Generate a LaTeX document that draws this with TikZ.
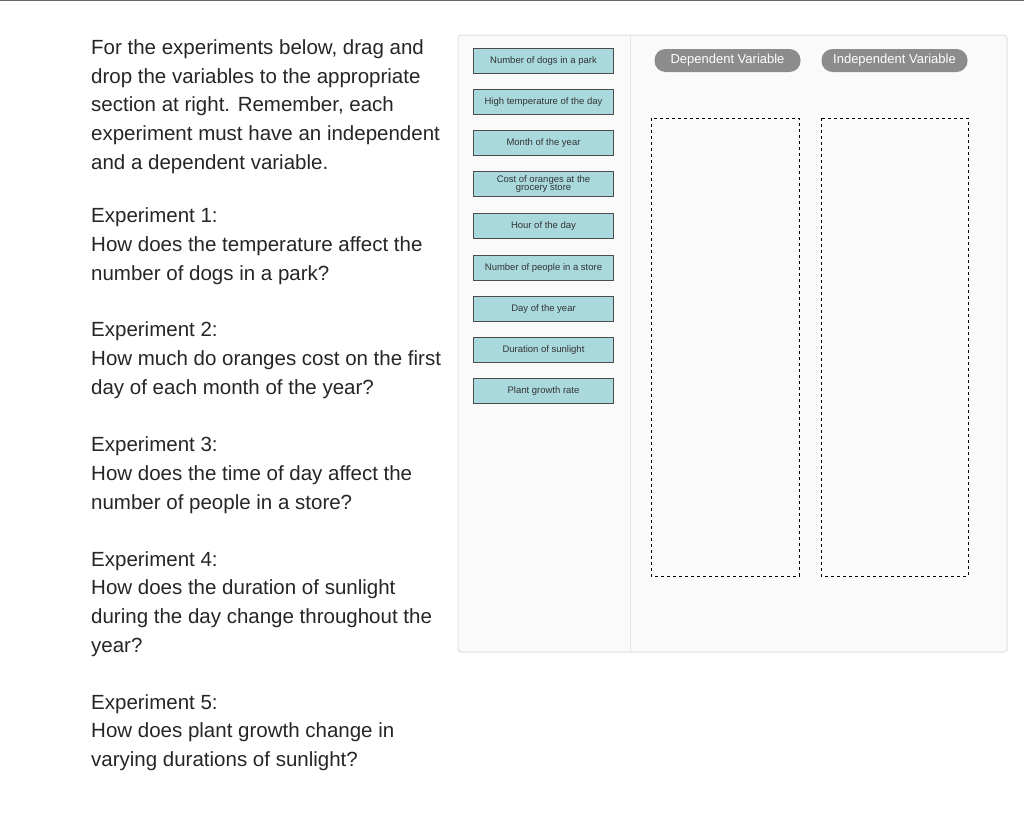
\documentclass[tikz,border=0pt]{standalone}
\usepackage{fontspec}
\setmainfont{Liberation Sans}
\definecolor{cardfill}{HTML}{A9D9DD}
\begin{document}
\begin{tikzpicture}[x=1pt,y=-1pt,
  txt/.style={anchor=west,inner sep=0pt,font=\fontsize{20.5}{22}\selectfont,text=black!85},
  card/.style={draw=black!70,line width=1.2pt,fill=cardfill,minimum width=140pt,minimum height=25pt,inner sep=1pt,font=\fontsize{9.5}{8.5}\selectfont,text=black!80,align=center},
  pill/.style={rounded corners=11pt,fill=black!45,text=white,minimum width=146pt,minimum height=23pt,inner sep=0pt,font=\fontsize{13}{14}\selectfont},
  drop/.style={draw=black,dashed,line width=0.8pt}]
\useasboundingbox (0,0) rectangle (1024,833);
\fill[white] (0,0) rectangle (1024,833);
\draw[black!60,line width=1.5pt] (0,0.5) -- (1024,0.5);
\node[txt] (a1) at (91,49) {For the experiments below, drag and};
\node[txt] (a2) at (91,78) {drop the variables to the appropriate};
\node[txt] (a3) at (91,106) {section at right. Remember, each};
\node[txt] (a4) at (91,135) {experiment must have an independent};
\node[txt] (a5) at (91,164) {and a dependent variable.};
\node[txt] (e1a) at (91,217) {Experiment 1:};
\node[txt] (e1b) at (91,246) {How does the temperature affect the};
\node[txt] (e1c) at (91,275) {number of dogs in a park?};
\node[txt] (e2a) at (91,331) {Experiment 2:};
\node[txt] (e2b) at (91,360) {How much do oranges cost on the first};
\node[txt] (e2c) at (91,389) {day of each month of the year?};
\node[txt] (e3a) at (91,446) {Experiment 3:};
\node[txt] (e3b) at (91,475) {How does the time of day affect the};
\node[txt] (e3c) at (91,504) {number of people in a store?};
\node[txt] (e4a) at (91,561) {Experiment 4:};
\node[txt] (e4b) at (91,589) {How does the duration of sunlight};
\node[txt] (e4c) at (91,618) {during the day change throughout the};
\node[txt] (e4d) at (91,647) {year?};
\node[txt] (e5a) at (91,704) {Experiment 5:};
\node[txt] (e5b) at (91,732) {How does plant growth change in};
\node[txt] (e5c) at (91,761) {varying durations of sunlight?};
% panel
\draw[black!12,fill=black!2,rounded corners=3pt,line width=1pt] (458,35) rectangle (1007,652);
\draw[black!10,line width=1pt] (630,35) -- (630,652);
\node[card] (c1) at (543.5,61) {Number of dogs in a park};
\node[card] (c2) at (543.5,102) {High temperature of the day};
\node[card] (c3) at (543.5,143) {Month of the year};
\node[card] (c4) at (543.5,184) {Cost of oranges at the\\grocery store};
\node[card] (c5) at (543.5,226) {Hour of the day};
\node[card] (c6) at (543.5,268) {Number of people in a store};
\node[card] (c7) at (543.5,309) {Day of the year};
\node[card] (c8) at (543.5,350) {Duration of sunlight};
\node[card] (c9) at (543.5,391) {Plant growth rate};
\node[pill] (p1) at (727.5,60.5) {Dependent Variable};
\node[pill] (p2) at (894.5,60.5) {Independent Variable};
\draw[drop] (651,118) rectangle (799,576);
\draw[drop] (821,118) rectangle (968,576);
\end{tikzpicture}
\end{document}
